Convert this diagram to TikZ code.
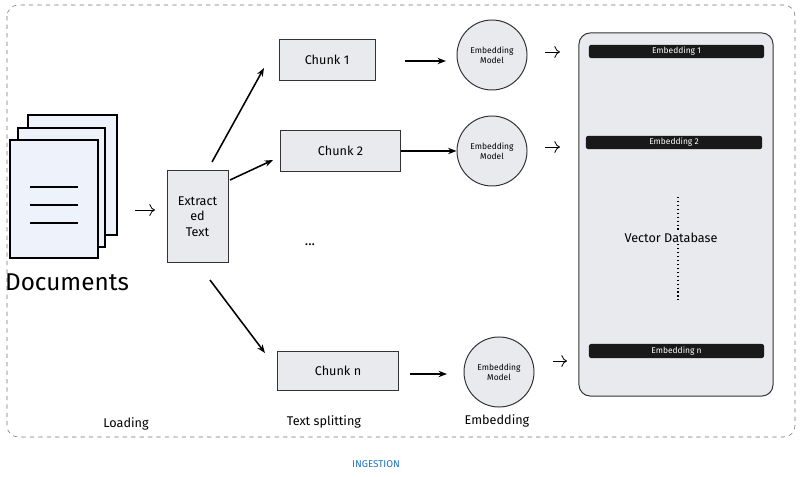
\documentclass[tikz,border=0pt]{standalone}
\usepackage{fontspec}
\setmainfont{Fira Sans}
\usetikzlibrary{arrows.meta}
\definecolor{boxg}{HTML}{E8EAED}
\definecolor{pagec}{HTML}{EEF3FB}
\definecolor{ingc}{HTML}{1971C2}
\tikzset{
  box/.style={draw=black!80,fill=boxg,line width=0.7pt},
  arr/.style={-{Stealth[length=6pt]},line width=1.1pt},
  sarr/.style={-{To[length=4pt]},line width=0.6pt},
  bar/.style={fill=black!90,rounded corners=1.5pt,text=white,font=\fontsize{6}{7}\selectfont,inner sep=0pt},
  lbl/.style={font=\small},
}
\begin{document}
\begin{tikzpicture}[x=0.025cm,y=-0.025cm]
\useasboundingbox (0,0) rectangle (800,477);
\draw[dashed,black!55,rounded corners=8pt] (7,5) rectangle (795,437);
% documents
\draw[fill=pagec,line width=1.1pt] (28,115) rectangle (117,235);
\draw[fill=pagec,line width=1.1pt] (18,128) rectangle (105,247);
\draw[fill=pagec,line width=1.1pt] (10,140) rectangle (98,258);
\foreach \y in {187,205,223} \draw[line width=1.1pt] (30,\y) -- (78,\y);
\node[font=\LARGE] (docs) at (67,282) {Documents};
\node[box,minimum width=1.525cm,minimum height=2.275cm,align=center,font=\small] (ext) at (197.5,216.5) {Extract\\ed\\Text};
\coordinate (da) at (135,210);
\coordinate (db0) at (155,210);
\draw[sarr] (da) -- (db0);
% chunks
\node[box,minimum width=2.4cm,minimum height=1cm,font=\small] (c1) at (327,60) {Chunk 1};
\node[box,minimum width=2.975cm,minimum height=1cm,font=\small] (c2) at (340.5,151) {Chunk 2};
\node[box,minimum width=3cm,minimum height=0.975cm,font=\small] (cn) at (338,370.5) {Chunk n};
\node (dots) at (310,245) {...};
\coordinate (a1s) at (212,162); \coordinate (a1e) at (264,68);
\coordinate (a2s) at (230,180); \coordinate (a2e) at (273,160);
\coordinate (a3s) at (210,280); \coordinate (a3e) at (265,353);
\draw[arr] (a1s) -- (a1e);
\draw[arr] (a2s) -- (a2e);
\draw[arr] (a3s) -- (a3e);
% circles
\foreach \n/\x/\y in {m1/492/55,m2/492/151,mn/499/372}
  \node[draw=black!80,fill=boxg,circle,minimum size=1.75cm,align=center,font=\fontsize{6}{7}\selectfont,line width=0.7pt] (\n) at (\x,\y) {Embedding\\Model};
\coordinate (b1) at (405,61); \coordinate (b1e) at (446,61);
\draw[arr] (b1) -- (b1e);
\draw[arr] (c2.east) -- (m2.west);
\coordinate (b3) at (410,374); \coordinate (b3e) at (447,374);
\draw[arr] (b3) -- (b3e);
% DB
\node[box,rounded corners=8pt,minimum width=4.85cm,minimum height=9.075cm] (db) at (676,214.5) {};
\coordinate (s1) at (545,52); \coordinate (t1) at (560,52);
\coordinate (s2) at (545,147); \coordinate (t2) at (560,147);
\coordinate (s3) at (553,361); \coordinate (t3) at (567,361);
\draw[sarr] (s1) -- (t1);
\draw[sarr] (s2) -- (t2);
\draw[sarr] (s3) -- (t3);
\node[bar,minimum width=4.375cm,minimum height=0.33cm] (e1) at (676.5,51.5) {Embedding 1};
\node[bar,minimum width=4.4cm,minimum height=0.33cm] (e2) at (674,142.5) {Embedding 2};
\node[bar,minimum width=4.375cm,minimum height=0.35cm] (en) at (676.5,351) {Embedding n};
\draw[dotted,line width=0.8pt] (678,197) -- (678,300);
\node[fill=boxg,inner sep=1pt,font=\small] (vd) at (671,238) {Vector Database};
% labels
\node[lbl] (l1) at (126,424) {Loading};
\node[lbl] (l2) at (324,422) {Text splitting};
\node[lbl] (l3) at (497,421) {Embedding};
\node[font=\scriptsize,text=ingc] (ing) at (376,464) {INGESTION};
\end{tikzpicture}
\end{document}
